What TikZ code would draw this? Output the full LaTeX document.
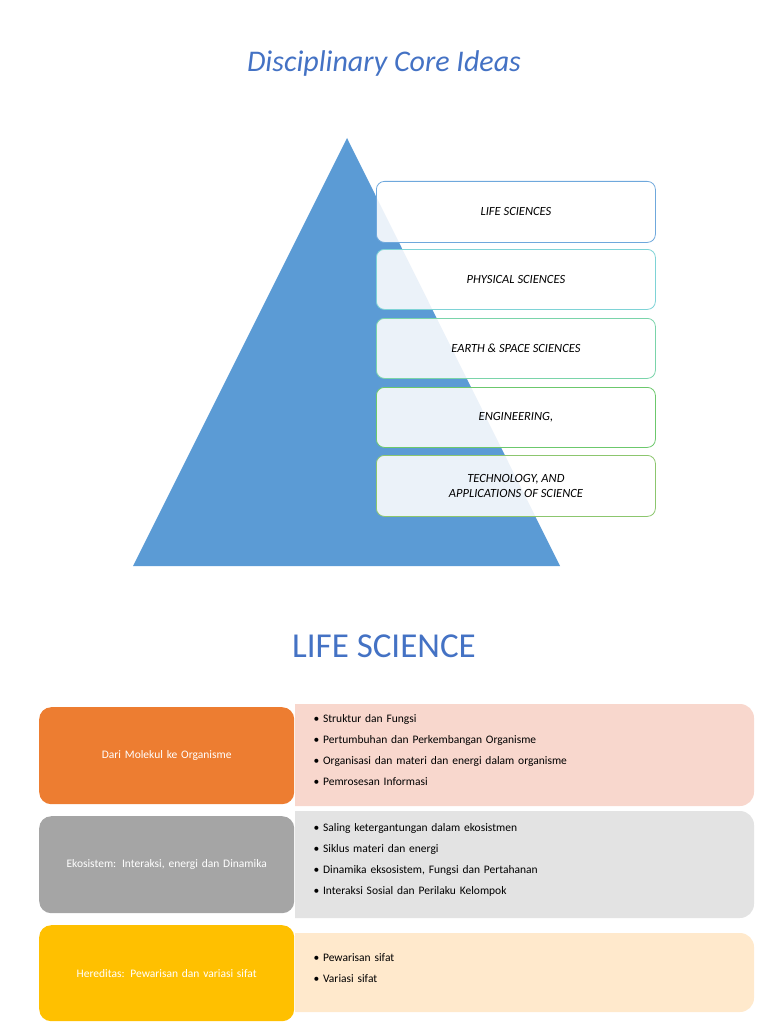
\documentclass[tikz,border=0pt]{standalone}
\usepackage{fontspec}
\setmainfont{Carlito}
\definecolor{tblue}{HTML}{4472C4}
\definecolor{pyr}{HTML}{5B9BD5}
\definecolor{c1}{RGB}{111,168,220}
\definecolor{c2}{RGB}{126,211,214}
\definecolor{c3}{RGB}{122,212,170}
\definecolor{c4}{RGB}{108,200,108}
\definecolor{c5}{RGB}{140,198,110}
\definecolor{p1}{RGB}{248,215,205}
\definecolor{p2}{RGB}{227,227,227}
\definecolor{p3}{RGB}{255,233,204}
\definecolor{o1}{HTML}{ED7D31}
\definecolor{o2}{HTML}{A5A5A5}
\definecolor{o3}{HTML}{FFC000}
\begin{document}
\begin{tikzpicture}[x=1pt,y=-1pt,
  sbox/.style={draw, line width=0.8pt, fill=white, fill opacity=0.88, text opacity=1, rounded corners=8pt, minimum width=279pt, minimum height=60pt, font=\itshape\fontsize{12.5}{15}\selectfont, align=center, anchor=north west},
  lbox/.style={rounded corners=12pt, minimum width=255pt, text width=240pt, align=center, text=white, font=\fontsize{11.5}{20}\selectfont, anchor=north west},
  btxt/.style={anchor=north west, font=\fontsize{11.5}{21}\selectfont, align=left, text width=420pt}]
\useasboundingbox (0,0) rectangle (768,1024);
\node (title) at (384,64) {\fontsize{30}{36}\selectfont\itshape\color{tblue}Disciplinary Core Ideas};
\fill[pyr] (347,138) -- (560,566) -- (133,566) -- cycle;
\node[sbox, draw=c1, minimum height=61pt] (b1) at (376,181) {LIFE SCIENCES};
\node[sbox, draw=c2] (b2) at (376,249) {PHYSICAL SCIENCES};
\node[sbox, draw=c3] (b3) at (376,318) {EARTH \& SPACE SCIENCES};
\node[sbox, draw=c4] (b4) at (376,387) {ENGINEERING,};
\node[sbox, draw=c5, minimum height=61pt] (b5) at (376,455) {TECHNOLOGY, AND\\APPLICATIONS OF SCIENCE};
\node (ls) at (384,646) {\fontsize{35}{42}\selectfont\color{tblue}LIFE SCIENCE};
\fill[p1] (295,704) -- (740,704) arc[start angle=-90,end angle=0,radius=14] -- (754,792) arc[start angle=0,end angle=90,radius=14] -- (295,806) -- cycle;
\fill[p2] (295,811) -- (740,811) arc[start angle=-90,end angle=0,radius=14] -- (754,904) arc[start angle=0,end angle=90,radius=14] -- (295,918) -- cycle;
\fill[p3] (295,933) -- (740,933) arc[start angle=-90,end angle=0,radius=14] -- (754,998) arc[start angle=0,end angle=90,radius=14] -- (295,1012) -- cycle;
\node[lbox, fill=o1, minimum height=97pt] (l1) at (39,707) {Dari Molekul ke Organisme};
\node[lbox, fill=o2, minimum height=97pt] (l2) at (39,816) {Ekosistem: Interaksi, energi dan Dinamika};
\node[lbox, fill=o3, minimum height=96pt] (l3) at (39,925) {Hereditas: Pewarisan dan variasi sifat};
\node[btxt] (t1) at (310,711) {\textbullet\ Struktur dan Fungsi\\\textbullet\ Pertumbuhan dan Perkembangan Organisme\\\textbullet\ Organisasi dan materi dan energi dalam organisme\\\textbullet\ Pemrosesan Informasi};
\node[btxt] (t2) at (310,820) {\textbullet\ Saling ketergantungan dalam ekosistmen\\\textbullet\ Siklus materi dan energi\\\textbullet\ Dinamika eksosistem, Fungsi dan Pertahanan\\\textbullet\ Interaksi Sosial dan Perilaku Kelompok};
\node[btxt] (t3) at (310,950) {\textbullet\ Pewarisan sifat\\\textbullet\ Variasi sifat};
\end{tikzpicture}
\end{document}
